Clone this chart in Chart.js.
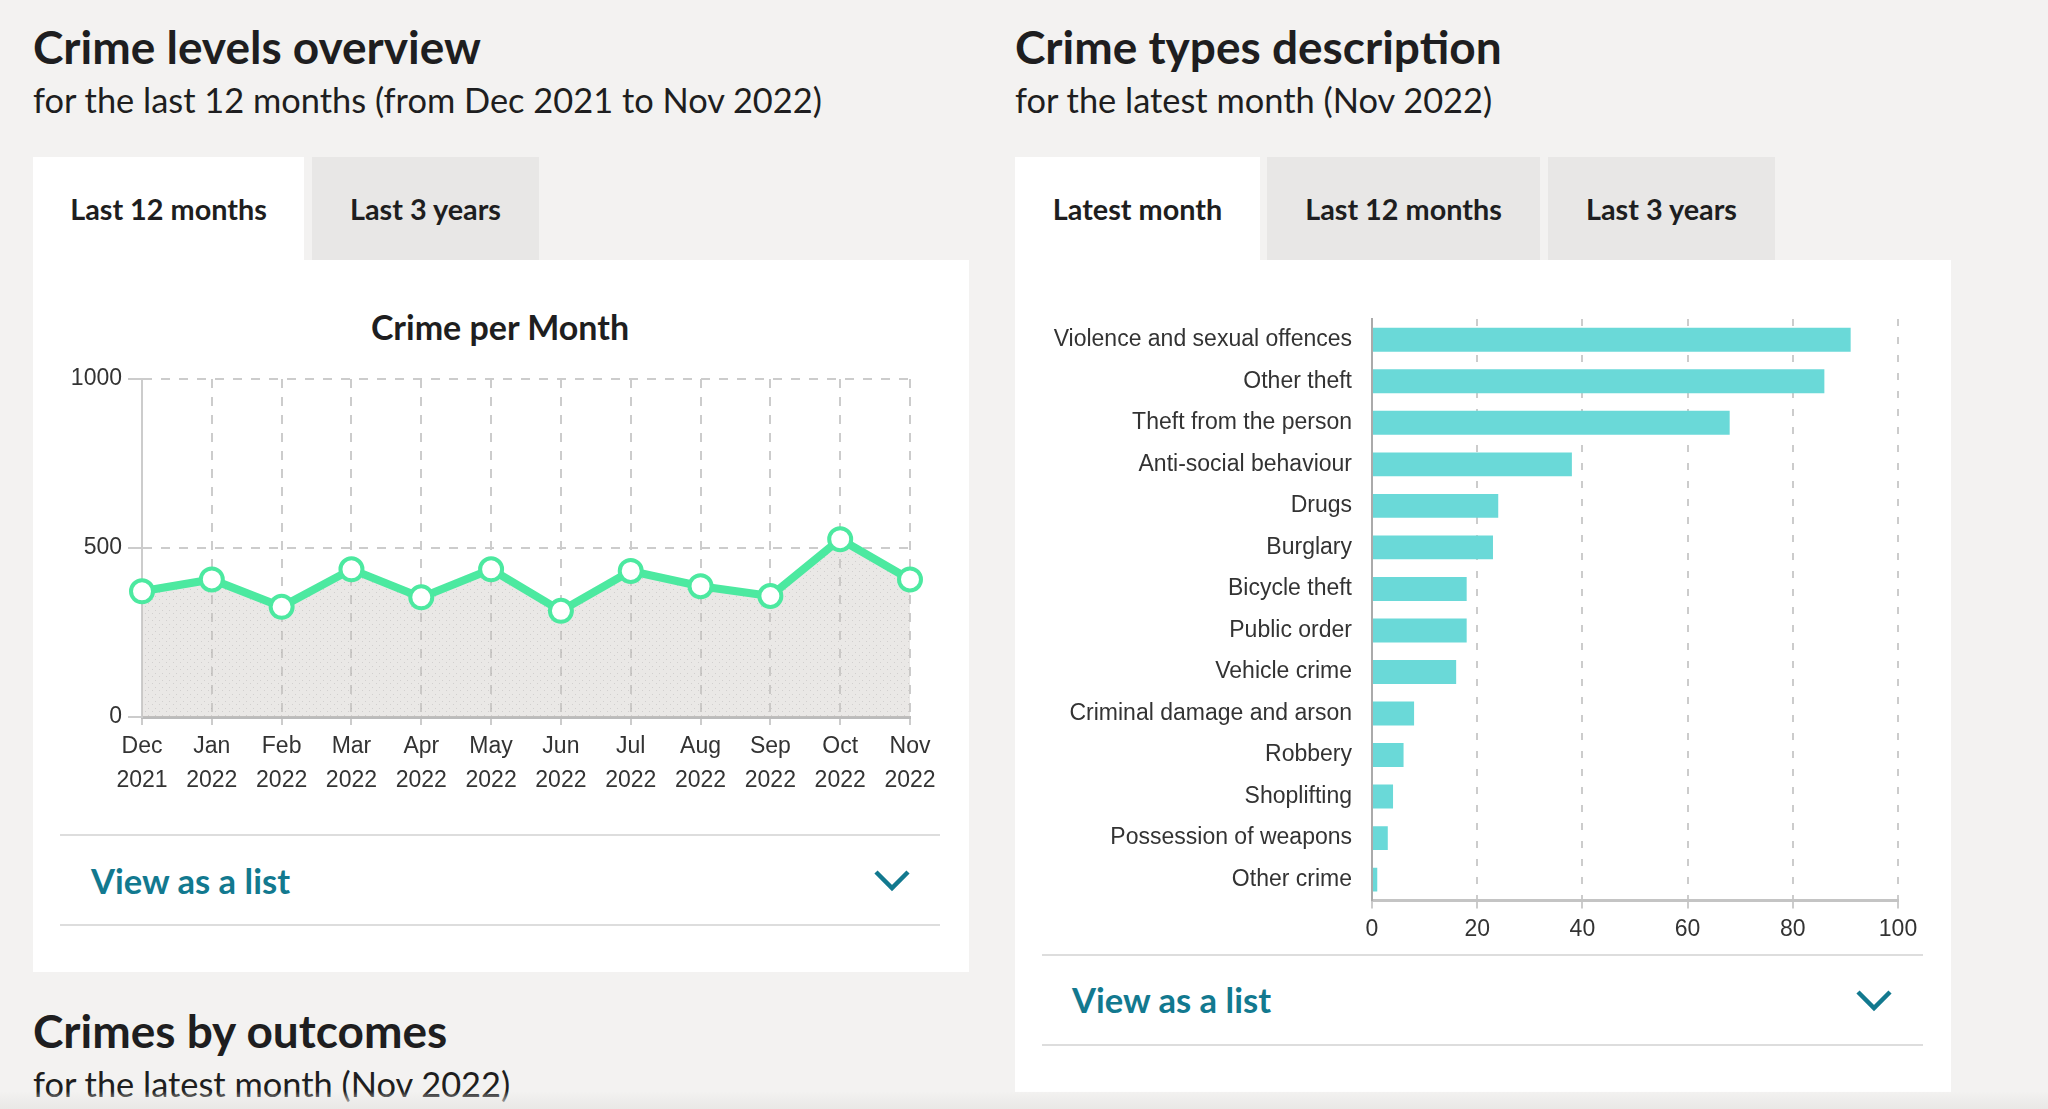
<!DOCTYPE html>
<html>
<head>
<meta charset="utf-8">
<title>Crime overview</title>
<script src="https://cdn.jsdelivr.net/npm/chart.js@4.4.0/dist/chart.umd.min.js"></script>
<style>
  html, body { margin: 0; padding: 0; }
  body {
    width: 2048px; height: 1109px; overflow: hidden; position: relative;
    background: #f3f2f1; font-family: Lato, sans-serif; color: #1e1e20;
  }
  h1 { position: absolute; margin: 0; font-size: 46px; font-weight: 700; line-height: 1.2; white-space: nowrap; }
  .sub { position: absolute; font-size: 34.4px; line-height: 1.2; white-space: nowrap; }
  .tab {
    position: absolute; top: 157px; height: 103px; display: flex; align-items: center; justify-content: center;
    font-size: 28.8px; font-weight: 700; background: #e8e7e6;
  }
  .tab.on { background: #fff; }
  .panel { position: absolute; background: #fff; }
  .rule { position: absolute; height: 2px; background: #dddddd; }
  .more { position: absolute; font-size: 34.6px; font-weight: 700; line-height: 1.2; color: #12798f; white-space: nowrap; }
  .chev { position: absolute; width: 40px; height: 24px; }
  .box { position: absolute; }
  .chart-title { position: absolute; left: 60px; width: 880px; top: 307px; text-align: center; font-size: 34px; font-weight: 700; line-height: 1.2; }
  .shade { position: absolute; left: 0; right: 0; bottom: 0; height: 18px; background: linear-gradient(#f3f2f100, #e9e8e6); }
</style>
</head>
<body>

<h1 style="left:33px; top:19px;">Crime levels overview</h1>
<div class="sub" style="left:33px; top:79px;">for the last 12 months (from Dec 2021 to Nov 2022)</div>

<h1 style="left:1015px; top:19px;">Crime types description</h1>
<div class="sub" style="left:1015px; top:79px;">for the latest month (Nov 2022)</div>

<div class="tab on" style="left:33px; width:271px;">Last 12 months</div>
<div class="tab" style="left:312px; width:227px;">Last 3 years</div>

<div class="tab on" style="left:1015px; width:245px;">Latest month</div>
<div class="tab" style="left:1267px; width:273px;">Last 12 months</div>
<div class="tab" style="left:1548px; width:227px;">Last 3 years</div>

<div class="panel" style="left:33px; top:260px; width:936px; height:712px;"></div>
<div class="panel" style="left:1015px; top:260px; width:936px; height:832px;"></div>

<div class="chart-title">Crime per Month</div>
<div class="box" style="left:60px; top:290px; width:880px; height:508px;"><canvas id="lineChart"></canvas></div>
<div class="box" style="left:1042px; top:290px; width:881px; height:653px;"><canvas id="barChart"></canvas></div>

<div class="rule" style="left:60px; top:834px; width:880px;"></div>
<div class="more" style="left:91px; top:860px;">View as a list</div>
<svg class="chev" style="left:872px; top:868px;" viewBox="0 0 40 24"><polyline points="4,4 20,20 36,4" fill="none" stroke="#12798f" stroke-width="4.5"/></svg>
<div class="rule" style="left:60px; top:924px; width:880px;"></div>

<div class="rule" style="left:1042px; top:954px; width:881px;"></div>
<div class="more" style="left:1072px; top:979px;">View as a list</div>
<svg class="chev" style="left:1854px; top:988px;" viewBox="0 0 40 24"><polyline points="4,4 20,20 36,4" fill="none" stroke="#12798f" stroke-width="4.5"/></svg>
<div class="rule" style="left:1042px; top:1044px; width:881px;"></div>

<h1 style="left:33px; top:1003px;">Crimes by outcomes</h1>
<div class="sub" style="left:33px; top:1063px;">for the latest month (Nov 2022)</div>

<div class="shade"></div>

<script>
// 月別の犯罪件数
const monthLabels = ['Dec', 'Jan', 'Feb', 'Mar', 'Apr', 'May', 'Jun', 'Jul', 'Aug', 'Sep', 'Oct', 'Nov'];
const yearLabels = ['2021', '2022', '2022', '2022', '2022', '2022', '2022', '2022', '2022', '2022', '2022', '2022'];
const crimeCounts = [372, 407, 326, 437, 354, 437, 314, 432, 387, 358, 526, 407];
const countTicks = [0, 500, 1000];

// 犯罪種別 (最新月)
const crimeTypes = [
    'Violence and sexual offences', 'Other theft', 'Theft from the person', 'Anti-social behaviour',
    'Drugs', 'Burglary', 'Bicycle theft', 'Public order', 'Vehicle crime',
    'Criminal damage and arson', 'Robbery', 'Shoplifting', 'Possession of weapons', 'Other crime'
];
const crimeTypeCounts = [91, 86, 68, 38, 24, 23, 18, 18, 16, 8, 6, 4, 3, 1];
const typeTicks = [0, 20, 40, 60, 80, 100];

Chart.defaults.font.family = "'Liberation Sans', Arial, sans-serif";
Chart.defaults.color = '#333';
Chart.defaults.animation = false;

// 軸の大きさを固定 (自動パディングを無効化)
const fixWidth = w => s => { s.width = w; s.paddingTop = 0; s.paddingBottom = 0; };
const fixHeight = h => s => { s.height = h; s.paddingLeft = 0; s.paddingRight = 0; };

// 塗りつぶし用のドットパターン
function dotPattern() {
    const c = document.createElement('canvas');
    c.width = 7; c.height = 7;
    const g = c.getContext('2d');
    g.fillStyle = 'rgba(200, 195, 190, 0.38)';
    g.fillRect(0, 0, 7, 7);
    g.fillStyle = 'rgba(150, 150, 150, 0.3)';
    g.fillRect(1, 1, 1, 1);
    g.fillRect(4, 5, 1, 1);
    return g.createPattern(c, 'repeat');
}

const lineCanvas = document.getElementById('lineChart');
new Chart(lineCanvas.getContext('2d'), {
    type: 'line',
    data: {
        labels: monthLabels.map((m, i) => [m, yearLabels[i]]),
        datasets: [{
            data: crimeCounts,
            borderColor: '#4ce9a0',
            borderWidth: 8,
            backgroundColor: dotPattern(),
            fill: 'origin',
            tension: 0,
            pointRadius: 11,
            pointBorderWidth: 4,
            pointBackgroundColor: '#fff',
            pointBorderColor: '#4ce9a0'
        }]
    },
    options: {
        responsive: true,
        maintainAspectRatio: false,
        layout: { padding: { left: 0, right: 30, top: 89, bottom: 0 } },
        plugins: {
            legend: { display: false },
            tooltip: { enabled: false }
        },
        scales: {
            x: {
                afterFit: fixHeight(81),
                grid: { color: '#cccccc', lineWidth: 2, tickLength: 8, tickColor: '#cccccc', tickWidth: 2 },
                border: { display: true, color: '#bbbbbb', width: 3, dash: [9, 9] },
                ticks: { padding: 5, maxRotation: 0, font: { size: 23, lineHeight: 1.48 } }
            },
            y: {
                min: 0, max: 1000,
                afterBuildTicks: s => { s.ticks = countTicks.map(v => ({ value: v })); },
                afterFit: fixWidth(82),
                grid: { color: '#cccccc', lineWidth: 2, tickLength: 14, tickColor: '#cccccc', tickWidth: 2 },
                border: { display: true, color: '#cccccc', width: 2, dash: [9, 9] },
                ticks: { padding: 6, font: { size: 23 }, callback: v => String(v) }
            }
        }
    }
});

const barCanvas = document.getElementById('barChart');
new Chart(barCanvas.getContext('2d'), {
    type: 'bar',
    data: {
        labels: crimeTypes,
        datasets: [{
            data: crimeTypeCounts,
            backgroundColor: '#6ad9d8',
            barPercentage: 0.72,
            categoryPercentage: 0.8
        }]
    },
    options: {
        indexAxis: 'y',
        responsive: true,
        maintainAspectRatio: false,
        layout: { padding: { left: 0, right: 25, top: 29, bottom: 0 } },
        plugins: {
            legend: { display: false },
            tooltip: { enabled: false }
        },
        scales: {
            x: {
                min: 0, max: 100,
                afterBuildTicks: s => { s.ticks = typeTicks.map(v => ({ value: v })); },
                afterFit: fixHeight(42.6),
                grid: { color: '#cccccc', lineWidth: 2, tickLength: 8, tickColor: '#cccccc', tickWidth: 2 },
                border: { display: true, color: '#c4c4c4', width: 3, dash: [7, 11] },
                ticks: { padding: 7, font: { size: 23, lineHeight: 1.2 } }
            },
            y: {
                afterFit: fixWidth(330),
                grid: { display: false, drawTicks: false },
                border: { display: true, color: '#aaaaaa', width: 2 },
                ticks: { padding: 20, font: { size: 23 } }
            }
        }
    }
});
</script>
</body>
</html>
